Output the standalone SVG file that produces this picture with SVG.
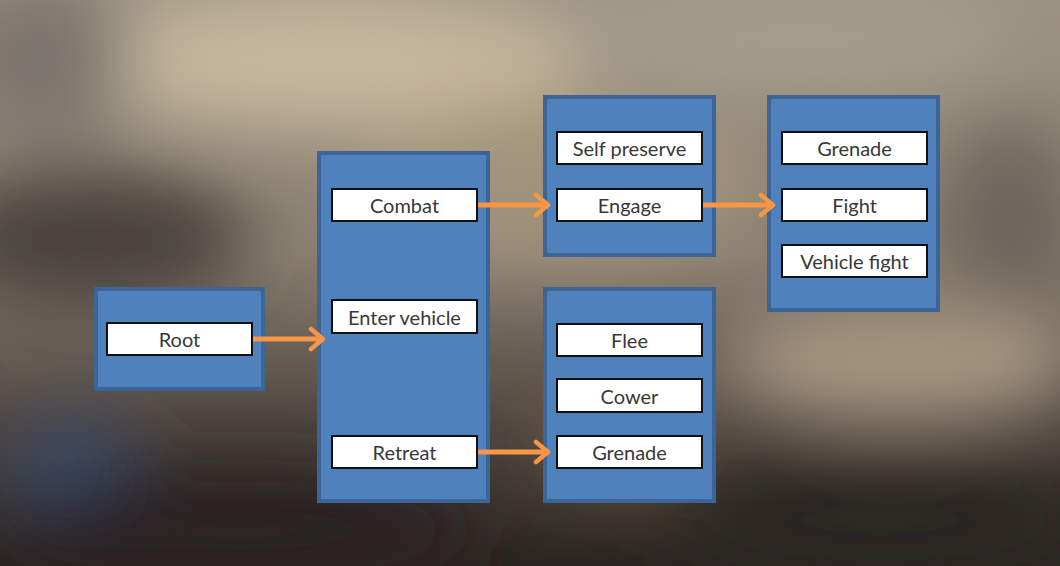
<svg xmlns="http://www.w3.org/2000/svg" width="1060" height="566" viewBox="0 0 1060 566">
<defs>
<filter id="blur" x="-20%" y="-20%" width="140%" height="140%"><feGaussianBlur stdDeviation="35"/></filter>
<linearGradient id="bgv" x1="0" y1="0" x2="0" y2="1">
<stop offset="0" stop-color="#9c9282"/>
<stop offset="0.45" stop-color="#8a7f70"/>
<stop offset="0.75" stop-color="#4e4640"/>
<stop offset="1" stop-color="#2a2522"/>
</linearGradient>
<marker id="arr" viewBox="0 0 20 26" refX="16" refY="13" markerWidth="20" markerHeight="26" markerUnits="userSpaceOnUse" orient="auto">
<path d="M4,3 L16,13 L4,23" fill="none" stroke="#f79646" stroke-width="4.5" stroke-linecap="round" stroke-linejoin="round"/>
</marker>
<style>
.box{fill:#4f81bd;stroke:#3d6497;stroke-width:4}
.lbl{fill:#ffffff;stroke:#111111;stroke-width:2}
.t{font-family:Lato,"Open Sans","Liberation Sans",sans-serif;font-size:20px;fill:#383838;text-anchor:middle;dominant-baseline:central}
.con{stroke:#f79646;stroke-width:5;fill:none;marker-end:url(#arr)}
</style>
</defs>
<g id="background">
<rect width="1060" height="566" fill="url(#bgv)"/>
<g filter="url(#blur)">
<ellipse cx="330" cy="60" rx="260" ry="70" fill="#c6b79d"/>
<ellipse cx="800" cy="40" rx="220" ry="50" fill="#a59d8e"/>
<ellipse cx="40" cy="60" rx="90" ry="80" fill="#7a756d"/>
<ellipse cx="90" cy="240" rx="160" ry="70" fill="#48423c"/>
<ellipse cx="560" cy="180" rx="200" ry="80" fill="#a2937c"/>
<ellipse cx="1010" cy="230" rx="70" ry="110" fill="#6d655c"/>
<ellipse cx="900" cy="360" rx="180" ry="60" fill="#a69680"/>
<ellipse cx="70" cy="470" rx="60" ry="50" fill="#3c4e6c"/>
<ellipse cx="240" cy="530" rx="240" ry="60" fill="#2a2421"/>
<ellipse cx="880" cy="520" rx="220" ry="60" fill="#2c2724"/>
<ellipse cx="620" cy="420" rx="80" ry="60" fill="#6f5a42"/>
</g>
</g>
<g id="root-node">
<rect class="box" x="96" y="289" width="167" height="100"/>
<rect class="lbl" x="107" y="323" width="145" height="32"/><text class="t" x="179.5" y="339">Root</text>
</g>
<g id="level1-node">
<rect class="box" x="319" y="153" width="169" height="348"/>
<rect class="lbl" x="332" y="189" width="145" height="32"/><text class="t" x="404.5" y="205">Combat</text>
<rect class="lbl" x="332" y="300" width="145" height="33"/><text class="t" x="404.5" y="316.5">Enter vehicle</text>
<rect class="lbl" x="332" y="436" width="145" height="32"/><text class="t" x="404.5" y="452">Retreat</text>
</g>
<g id="combat-node">
<rect class="box" x="545" y="97" width="169" height="158"/>
<rect class="lbl" x="557" y="132" width="145" height="32"/><text class="t" x="629.5" y="148">Self preserve</text>
<rect class="lbl" x="557" y="189" width="145" height="32"/><text class="t" x="629.5" y="205">Engage</text>
</g>
<g id="retreat-node">
<rect class="box" x="545" y="289" width="169" height="212"/>
<rect class="lbl" x="557" y="324" width="145" height="32"/><text class="t" x="629.5" y="340">Flee</text>
<rect class="lbl" x="557" y="379" width="145" height="33"/><text class="t" x="629.5" y="395.5">Cower</text>
<rect class="lbl" x="557" y="436" width="145" height="32"/><text class="t" x="629.5" y="452">Grenade</text>
</g>
<g id="engage-node">
<rect class="box" x="769" y="97" width="169" height="213"/>
<rect class="lbl" x="782" y="132" width="145" height="32"/><text class="t" x="854.5" y="148">Grenade</text>
<rect class="lbl" x="782" y="189" width="145" height="32"/><text class="t" x="854.5" y="205">Fight</text>
<rect class="lbl" x="782" y="245" width="145" height="32"/><text class="t" x="854.5" y="261">Vehicle fight</text>
</g>
<g id="connectors">
<line class="con" x1="253" y1="339" x2="323" y2="339"/>
<line class="con" x1="478" y1="205" x2="548" y2="205"/>
<line class="con" x1="703" y1="205" x2="773" y2="205"/>
<line class="con" x1="478" y1="452" x2="548" y2="452"/>
</g>
</svg>
